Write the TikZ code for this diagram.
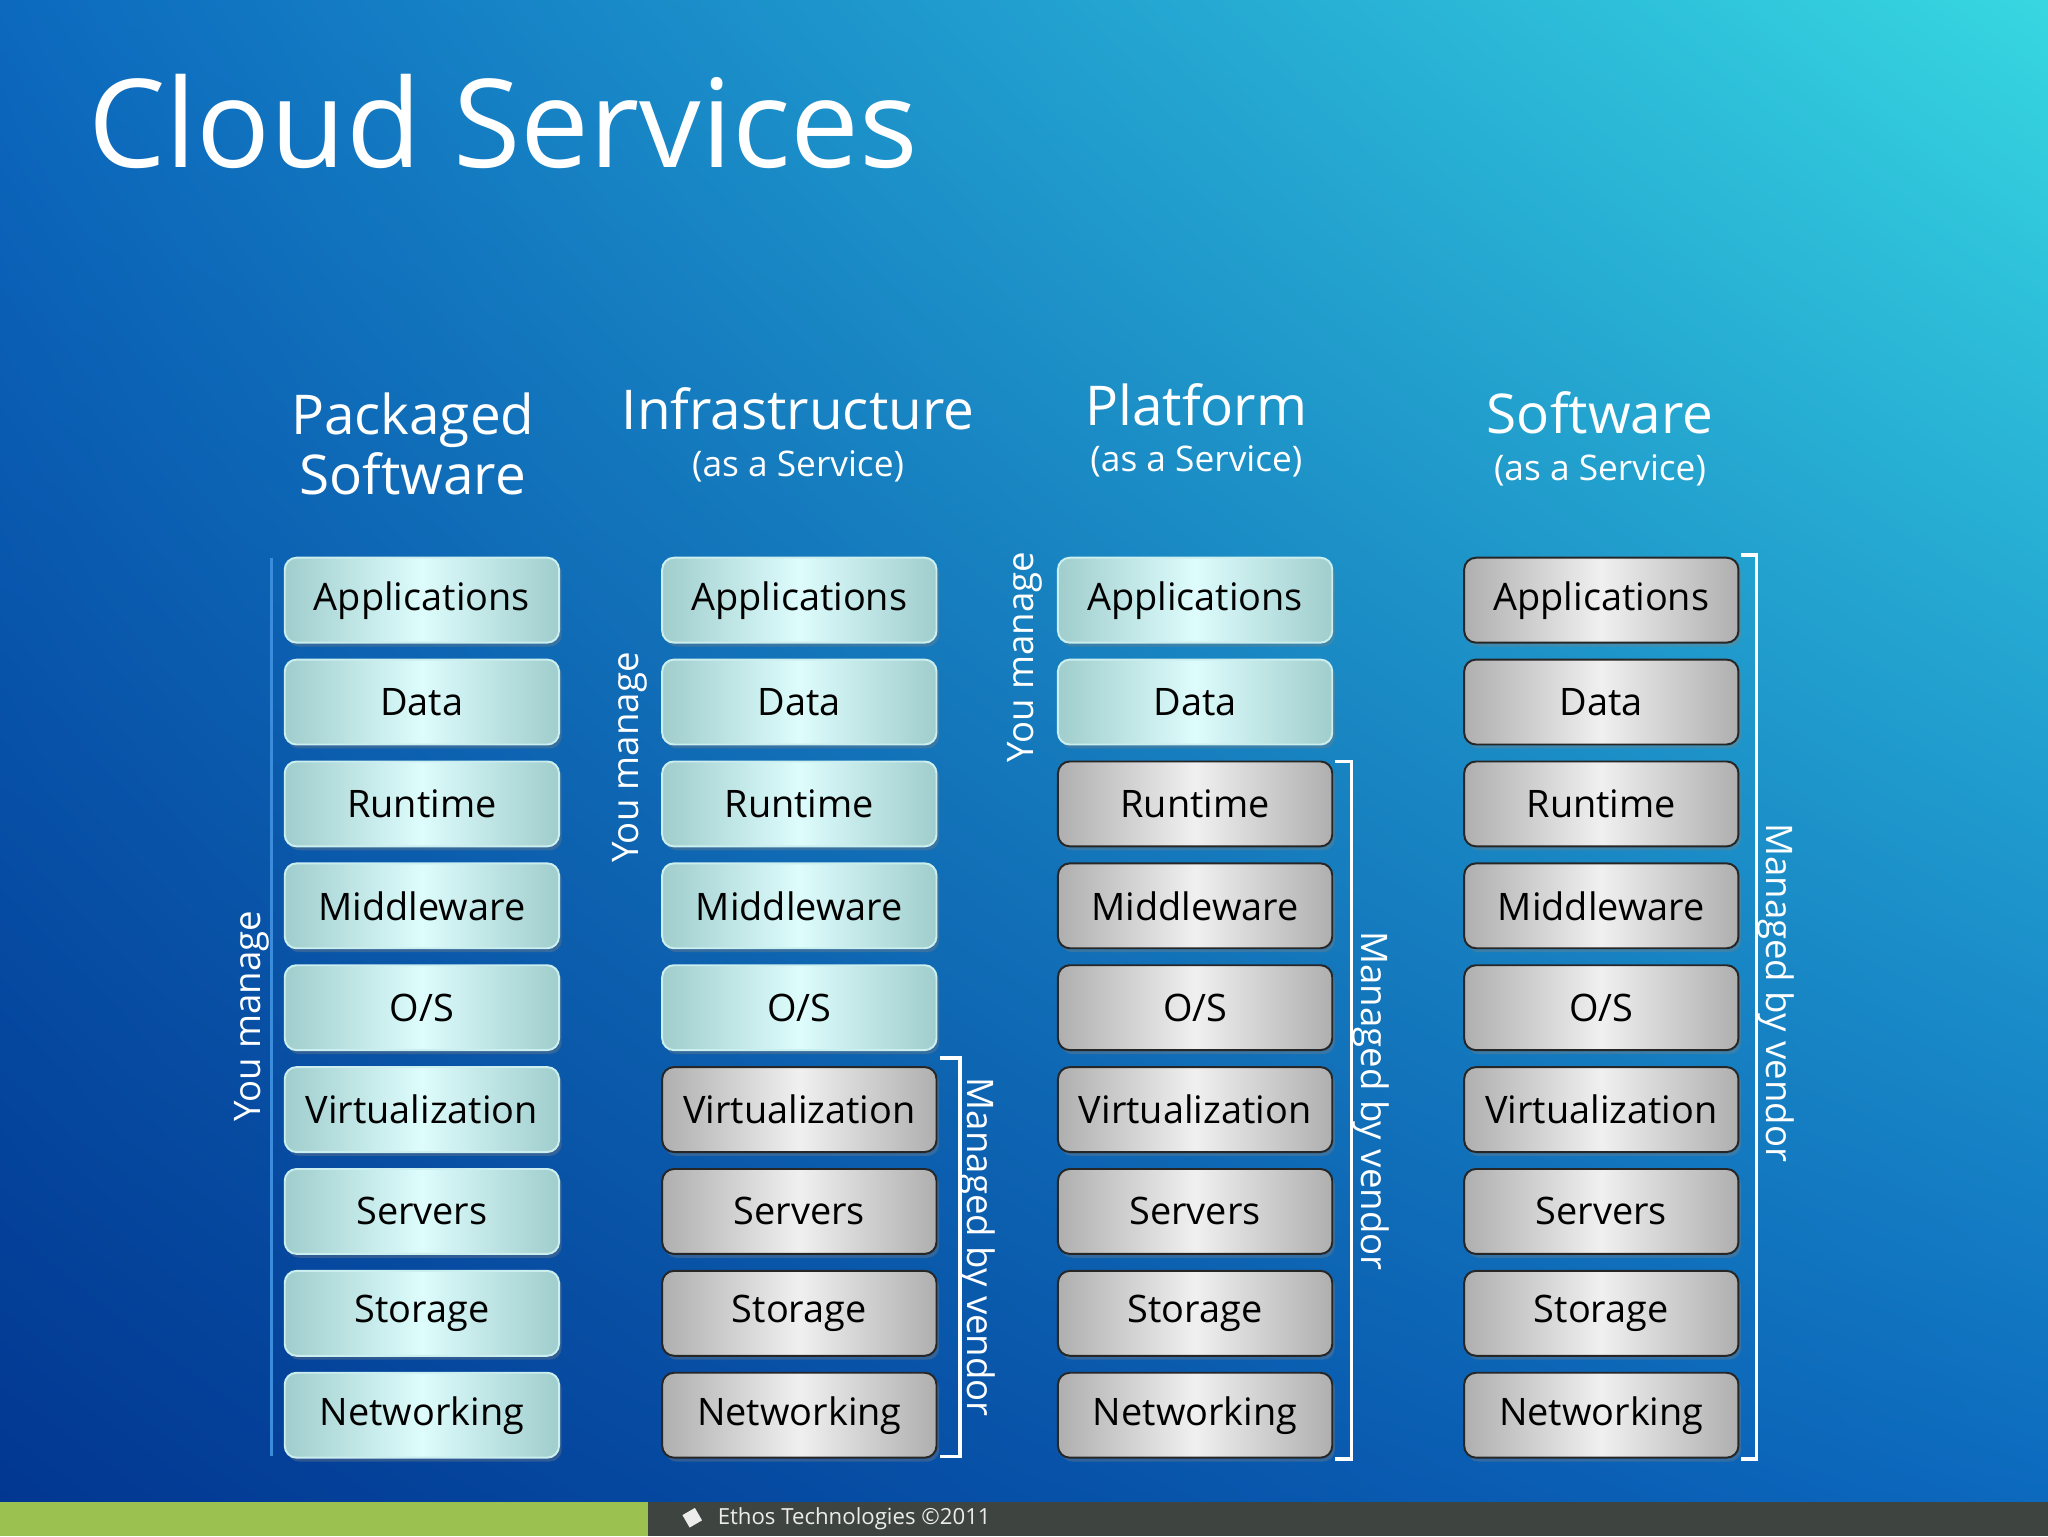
\documentclass[tikz,border=0pt]{standalone}
\usepackage{fontspec}
\setmainfont{Open Sans}
\usetikzlibrary{shadows,shadings}
\definecolor{cyA}{RGB}{160,205,205}
\definecolor{cyB}{RGB}{222,252,252}
\definecolor{gyA}{RGB}{175,175,175}
\definecolor{gyB}{RGB}{240,240,240}
\definecolor{bgDark}{RGB}{2,55,145}
\definecolor{bgMid}{RGB}{12,105,190}
\definecolor{bgLight}{RGB}{55,215,225}
\tikzset{
  cbox/.style={rounded corners=9pt, minimum width=210pt, minimum height=65pt, inner sep=0pt,
    left color=cyA, right color=cyA, middle color=cyB, draw=cyB!70!cyA, line width=1.5pt,
    font=\fontsize{29}{32}\selectfont, text=black, drop shadow={opacity=0.35, shadow xshift=2pt, shadow yshift=-3pt}},
  gbox/.style={cbox, left color=gyA, right color=gyA, middle color=gyB, draw=black!85, line width=1.5pt},
  brk/.style={draw=white, line width=2.5pt},
  side/.style={text=white, font=\fontsize{28}{30}\selectfont},
  head/.style={text=white, font=\fontsize{42}{50}\selectfont, align=center},
  sub/.style={text=white, font=\fontsize{27}{30}\selectfont}
}
\begin{document}
\begin{tikzpicture}[x=1pt,y=-1pt]
\useasboundingbox (0,0) rectangle (1568,1176);
\shade[upper left=bgMid, upper right=bgLight, lower left=bgDark, lower right=bgMid] (0,0) rectangle (1568,1150);
\fill[fill={rgb,255:red,155;green,194;blue,80}] (0,1150) rectangle (496,1176);
\fill[fill={rgb,255:red,62;green,68;blue,64}] (496,1150) rectangle (1568,1176);
\node[anchor=west, text=white!85!gray, font=\fontsize{17}{19}\selectfont] (foot) at (546,1163) {Ethos Technologies ©2011};
\node[fill=white!85!gray, rotate=30, minimum size=11pt, inner sep=0pt] (logo) at (530,1162) {};
\node[anchor=base west, text=white, font=\fontsize{94}{100}\selectfont] (title) at (64,128) {Cloud Services};
% headers
\node[head] (h1) at (316,340) {Packaged\\[-4pt]Software};
\node[head] (h2) at (611,313) {Infrastructure};
\node[sub] (s2) at (611,357) {(as a Service)};
\node[head] (h3) at (916,310) {Platform};
\node[sub] (s3) at (916,353) {(as a Service)};
\node[head] (h4) at (1225,316) {Software};
\node[sub] (s4) at (1225,360) {(as a Service)};
% boxes
\def\labs{{"Applications","Data","Runtime","Middleware","O/S","Virtualization","Servers","Storage","Networking"}}
\foreach \c/\x/\n in {1/323/9, 2/612/5, 3/915/2, 4/1226/0}{
  \foreach \r in {0,...,8}{
    \pgfmathsetmacro{\yy}{459.5+78*\r}
    \pgfmathparse{\labs[\r]}\let\lab\pgfmathresult
    \ifnum\r<\n
      \node[cbox] (b\c-\r) at (\x,\yy) {\lab};
    \else
      \node[gbox] (b\c-\r) at (\x,\yy) {\lab};
    \fi
  }
}
% brackets and labels
\draw[draw={rgb,255:red,60;green,140;blue,220}, line width=2pt] (208,427) -- (208,1115);
\node[side, rotate=90] (ym1) at (193,778) {You manage};
\node[side, rotate=90] (ym2) at (482,580) {You manage};
\node[side, rotate=90] (ym3) at (785,503) {You manage};
\draw[brk] (720,810) -- (735,810) -- (735,1115) -- (720,1115);
\node[side, rotate=-90] (mv2) at (748,955) {Managed by vendor};
\draw[brk] (1022,583) -- (1035,583) -- (1035,1117) -- (1022,1117);
\node[side, rotate=-90] (mv3) at (1050,843) {Managed by vendor};
\draw[brk] (1333,425) -- (1345,425) -- (1345,1117) -- (1333,1117);
\node[side, rotate=-90] (mv4) at (1360,760) {Managed by vendor};
\end{tikzpicture}
\end{document}
